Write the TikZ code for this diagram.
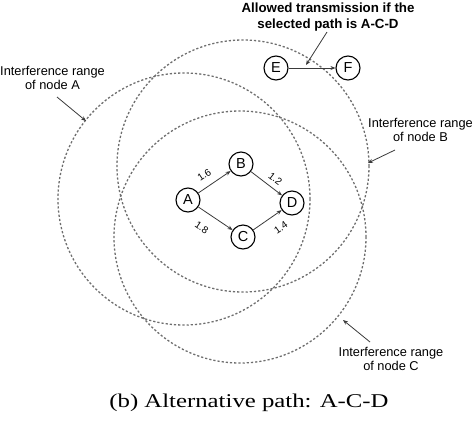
\documentclass[tikz,border=0pt]{standalone}
\usepackage{fontspec}
\usepackage{graphicx}
\setmainfont{Liberation Sans}
\newfontfamily\capfont{Liberation Serif}
\usetikzlibrary{arrows.meta}
\definecolor{rangegray}{HTML}{6E6E6E}
\definecolor{arrgray}{HTML}{3A3A3A}
\tikzset{
  netnode/.style={circle, draw=black, line width=1.1pt, minimum size=24pt, inner sep=0pt, font=\fontsize{14.5}{16}\selectfont},
  rangecircle/.style={draw=rangegray, line width=1.3pt, dash pattern=on 2.2pt off 2pt},
  arr/.style={draw=arrgray, line width=0.8pt, -{Stealth[length=5pt,width=4pt]}},
  weight/.style={font=\fontsize{10}{12}\selectfont, sloped, inner sep=1.5pt},
  rangelabel/.style={align=center, inner sep=0pt, font=\fontsize{12.8}{13.5}\selectfont},
  toplabel/.style={align=center, inner sep=0pt, font=\fontsize{13.3}{15.3}\selectfont\bfseries}
}
\begin{document}
\begin{tikzpicture}[x=1pt,y=-1pt]
\useasboundingbox (0,0) rectangle (474,437);
% interference ranges
\draw[rangecircle] (184,199) circle[radius=126];
\draw[rangecircle] (243,166) circle[radius=126];
\draw[rangecircle] (240,237) circle[radius=126];
% nodes
\node[netnode] (A) at (188,200) {A};
\node[netnode] (B) at (241,164) {B};
\node[netnode] (C) at (243,237) {C};
\node[netnode] (D) at (292,203) {D};
\node[netnode] (E) at (276,68) {E};
\node[netnode] (F) at (348,68) {F};
% links
\draw[arr] (A) -- (B) node[weight, pos=0.38, above=6pt] {1.6};
\draw[arr] (B) -- (D) node[weight, pos=0.61, above=3.5pt] {1.2};
\draw[arr] (A) -- (C) node[weight, pos=0.35, below=10pt] {1.8};
\draw[arr] (C) -- (D) node[weight, pos=0.69, below=8.5pt] {1.4};
\draw[arr] (E) -- (F);
% labels
\node[toplabel] (lt) at (328,17) {Allowed transmission if the\\selected path is A-C-D};
\node[rangelabel] (la) at (52.5,78) {Interference range\\of node A};
\node[rangelabel] (lb) at (420.5,130) {Interference range\\of node B};
\node[rangelabel] (lc) at (391,359) {Interference range\\of node C};
\coordinate (lt1) at (327,32);
\coordinate (lt2) at (306,65);
\coordinate (la1) at (57,97);
\coordinate (la2) at (86,121);
\coordinate (lb1) at (395,150);
\coordinate (lb2) at (368,163);
\coordinate (lc1) at (370,342);
\coordinate (lc2) at (343,320);
\draw[arr] (lt1) -- (lt2);
\draw[arr] (la1) -- (la2);
\draw[arr] (lb1) -- (lb2);
\draw[arr] (lc1) -- (lc2);
% caption
\node[anchor=base, inner sep=0pt, font=\capfont\fontsize{19.5}{22}\selectfont] (cap) at (249,407) {\scalebox{1.27}[1]{(b) Alternative path: A-C-D}};
\end{tikzpicture}
\end{document}
